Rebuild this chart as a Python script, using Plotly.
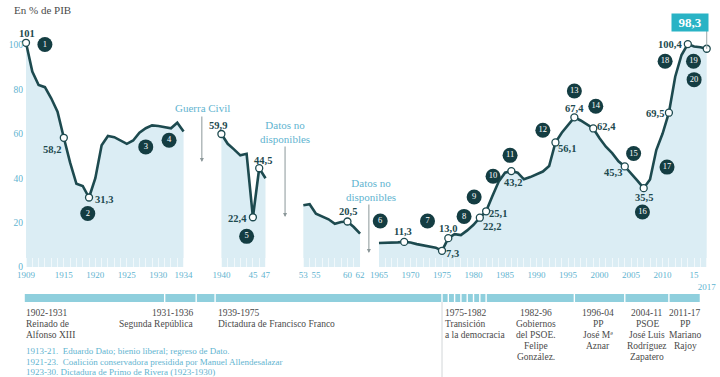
import plotly.graph_objects as go

# ---------------- DATA ----------------
years_1909_1934 = list(range(1909, 1935))
debt_1909_1934 = [101, 88, 82, 81, 76, 70, 58.2, 47, 37.5, 36.5, 31.3, 40, 54.8, 59, 58.5,
                  57, 55.5, 57, 60.5, 62.5, 63.8, 63.5, 63, 62.5, 65, 61]

years_1940_1947 = list(range(1940, 1948))
debt_1940_1947 = [59.9, 55.5, 53, 50.3, 51, 22.4, 44.5, 40]

years_1953_1962 = list(range(1953, 1963))
debt_1953_1962 = [27.8, 28.3, 24, 22.8, 21.5, 19.5, 20.3, 20.5, 18, 15]

years_1965_2017 = list(range(1965, 2018))
debt_1965_2017 = [10.8, 10.8, 11.0, 11.1, 11.3, 11.0, 10.3, 9.8, 9.2, 8.7,
                  7.3, 13.0, 14.8, 14.4, 16.5, 19.0, 22.2, 25.1, 32, 38.5,
                  42.5, 43.2, 42.5, 39.5, 40.5, 41.8, 43, 45.5, 56.1, 60.5,
                  64, 67.4, 66, 64.2, 62.4, 58.0, 54.2, 51.3, 47.6, 45.3,
                  42.3, 38.9, 35.5, 39.4, 52.7, 60.1, 69.5, 85.7, 95.5, 100.4,
                  99.3, 99.0, 98.3]

labelled_years = [1909, 1915, 1919, 1940, 1945, 1946, 1960, 1969, 1975, 1976, 1981,
                  1982, 1986, 1993, 1996, 1999, 2004, 2007, 2011, 2014, 2017]

tick_years = [1909, 1915, 1920, 1925, 1930, 1934, 1940, 1945, 1947, 1953, 1955, 1960,
              1962, 1965, 1970, 1975, 1980, 1985, 1990, 1995, 2000, 2005, 2010, 2015, 2017]
tick_labels = ["1909", "1915", "1920", "1925", "1930", "1934", "1940", "45", "47", "53",
               "55", "60", "62", "1965", "1970", "1975", "1980", "1985", "1990", "1995",
               "2000", "2005", "2010", "15", "<br>2017"]
y_ticks = [0, 20, 40, 60, 80, 100]

period_bounds = [1908.7, 1931, 1936, 1939, 1975, 1976, 1977, 1978, 1979, 1980, 1981,
                 1982, 1996, 2004, 2011, 2016]

period_texts = [
    ["1902-1931", "Reinado de", "Alfonso XIII"],
    ["1931-1936", "Segunda República"],
    ["1939-1975", "Dictadura de Francisco Franco"],
    ["1975-1982", "Transición", "a la democracia"],
    ["1982-96", "Gobiernos", "del PSOE.", "Felipe", "González."],
    ["1996-04", "PP", "José Mª", "Aznar"],
    ["2004-11", "PSOE", "José Luis", "Rodríguez", "Zapatero"],
    ["2011-17", "PP", "Mariano", "Rajoy"],
]
notes = ["1913-21.  Eduardo Dato; bienio liberal; regreso de Dato.",
         "1921-23.  Coalición conservadora presidida por Manuel Allendesalazar",
         "1923-30. Dictadura de Primo de Rivera (1923-1930)"]

# ---------------- STYLE / LAYOUT ----------------
W, H = 720, 377
ML, MR, MT, MB = 24, 8, 30, 110
PW, PH = W - ML - MR, H - MT - MB
PX_YEAR = 6.303
PX_UNIT = 2.22
x_lo = 1909 - (26 - ML) / PX_YEAR
x_hi = x_lo + PW / PX_YEAR
y_hi = PH / PX_UNIT

LINE = "#1d4a4f"
DARK = "#143d42"
FILL = "#dbedf4"
LIGHT = "#5fb4d0"
BAR = "#8fcfdd"
TEXT = "#4a4a4a"
SERIF = "Liberation Serif"


def pxx(px):
    return (px - ML) / PW


def pxy(py):
    return (MT + PH - py) / PH


fig = go.Figure()

for xs, ys in [(years_1909_1934, debt_1909_1934), (years_1940_1947, debt_1940_1947),
               (years_1953_1962, debt_1953_1962), (years_1965_2017, debt_1965_2017)]:
    fig.add_trace(go.Scatter(x=xs, y=ys, mode="lines", fill="tozeroy", fillcolor=FILL,
                             line=dict(color=LINE, width=2.6), hoverinfo="skip",
                             showlegend=False))

all_years = years_1909_1934 + years_1940_1947 + years_1953_1962 + years_1965_2017
all_debt = debt_1909_1934 + debt_1940_1947 + debt_1953_1962 + debt_1965_2017
lookup = dict(zip(all_years, all_debt))
lab_vals = [lookup[y] for y in labelled_years]

fig.add_trace(go.Scatter(x=labelled_years, y=lab_vals, mode="markers",
                         marker=dict(size=7, color="white", line=dict(color=LINE, width=1.3)),
                         hoverinfo="skip", showlegend=False, cliponaxis=False))

# value labels: offsets in px from the point (dx, dy up)
label_offsets = [(1, 9), (-12, -12), (15, -2), (-3, 9), (-15, -1), (4, 8), (1, 9.5),
                 (-1, 10), (10, -3), (0, 9.5), (12, -8.6), (12, -2), (2, -11), (12, -6),
                 (0, 9), (13, 1.5), (-12, -5.6), (0, -9), (-14, -1), (-18, 0)]


def fmt(v):
    s = f"{v:.1f}".replace(".", ",")
    return "101" if v == 101 else s


for yr, v, (dx, dy) in zip(labelled_years[:-1], lab_vals[:-1], label_offsets):
    fig.add_annotation(x=yr, y=v, text="<b>" + fmt(v) + "</b>", showarrow=False,
                       xshift=dx, yshift=dy,
                       font=dict(family=SERIF, size=10.5, color=LINE), xanchor="center",
                       yanchor="middle")

# highlighted last value box
fig.add_annotation(x=2017, y=pxy(22.5), yref="paper", xanchor="right", yanchor="middle",
                   xshift=2, text="<b>98,3</b>", showarrow=False, bgcolor="#29b3c5",
                   borderpad=2, width=32, height=13,
                   font=dict(family=SERIF, size=13, color="white"))
fig.add_shape(type="line", x0=2017, x1=2017, y0=lookup[2017], y1=y_hi, xref="x", yref="y",
              line=dict(color="#9aa7aa", width=1))

# numbered callouts (positions in data coords)
callout_pos = [(1912.0, 100.2), (1918.8, 24.1), (1928.0, 54.1), (1931.7, 57.1), (1944.0, 13.8),
               (1965.2, 20.7), (1972.7, 20.7), (1978.5, 22.8), (1980.1, 31.5), (1983.1, 40.9),
               (1985.8, 50.3), (1991.0, 61.6), (1996.0, 79.3), (1999.4, 72.4), (2005.4, 51.1),
               (2006.8, 24.8), (2010.7, 45.0), (2010.4, 92.7), (2014.9, 92.7), (2015.0, 84.4)]
fig.add_trace(go.Scatter(x=[p[0] for p in callout_pos], y=[p[1] for p in callout_pos],
                         mode="markers+text", text=[str(i + 1) for i in range(len(callout_pos))],
                         textposition="middle center",
                         textfont=dict(family=SERIF, size=8.5, color="white"),
                         marker=dict(size=15, color=DARK), hoverinfo="skip",
                         showlegend=False, cliponaxis=False))

# arrows for gaps
for txt, tx, ty, ax_year, head_py, tail_py in [
        ("Guerra Civil", 202, 108, 1936.9, 162, 115),
        ("Datos no<br>disponibles", 285, 132, 1950.1, 217, 145),
        ("Datos no<br>disponibles", 371, 190, 1963.4, 253, 203)]:
    fig.add_annotation(x=pxx(tx), y=pxy(ty), xref="paper", yref="paper", text=txt,
                       showarrow=False, font=dict(family=SERIF, size=11, color=LIGHT),
                       xanchor="center", yanchor="middle")
    fig.add_annotation(x=ax_year, y=(MT + PH - head_py) / PX_UNIT, text="", showarrow=True,
                       ax=0, ay=-(head_py - tail_py), arrowhead=2, arrowsize=0.8,
                       arrowwidth=1, arrowcolor="#8b9799")

# title
fig.add_annotation(x=pxx(12), y=pxy(10), xref="paper", yref="paper", text="En % de PIB",
                   showarrow=False, xanchor="left", yanchor="middle",
                   font=dict(family=SERIF, size=11, color=TEXT))

# timeline bar
for a, b in zip(period_bounds[:-1], period_bounds[1:]):
    fig.add_shape(type="rect", xref="x", yref="paper", x0=a + 0.11, x1=b - 0.11,
                  y0=pxy(302), y1=pxy(294), fillcolor=BAR, line=dict(width=0))
fig.add_shape(type="line", xref="x", yref="paper", x0=1975, x1=1975, y0=pxy(302),
              y1=pxy(377), line=dict(color="#d2d6d8", width=1))

# period texts: (x px, anchor)
period_anchor = [(24, "left"), (195, "right"), (216, "left"), (443, "left"),
                 (536, "center"), (598, "center"), (647, "center"), (685, "center")]
for lines, (xp, anc) in zip(period_texts, period_anchor):
    for i, ln in enumerate(lines):
        fig.add_annotation(x=pxx(xp), y=pxy(313 + i * 11), xref="paper", yref="paper",
                           text=ln, showarrow=False, xanchor=anc, yanchor="middle",
                           font=dict(family=SERIF, size=9.5, color=TEXT))

for i, ln in enumerate(notes):
    fig.add_annotation(x=pxx(24), y=pxy(351 + i * 10.5), xref="paper", yref="paper",
                       text=ln, showarrow=False, xanchor="left", yanchor="middle",
                       font=dict(family=SERIF, size=9, color=LIGHT))

fig.update_layout(
    width=W, height=H, margin=dict(l=ML, r=MR, t=MT, b=MB, autoexpand=False),
    paper_bgcolor="white", plot_bgcolor="white",
    xaxis=dict(range=[x_lo, x_hi], showgrid=False, zeroline=False, showline=False,
               automargin=False, tickangle=0, ticklabelstandoff=1,
               tickmode="array", tickvals=tick_years, ticktext=tick_labels,
               tickfont=dict(family=SERIF, size=9, color=LIGHT), ticks="",
               minor=dict(tickmode="linear", tick0=1909, dtick=1, ticks="inside",
                          ticklen=9, tickcolor="rgba(255,255,255,0.6)", tickwidth=1)),
    yaxis=dict(range=[0, y_hi], showgrid=False, zeroline=False, showline=False,
               automargin=False,
               tickvals=y_ticks, tickfont=dict(family=SERIF, size=9.5, color=LIGHT), ticks=""),
)

fig.write_html("out.html", config={"displayModeBar": False},
               post_script="document.body.style.margin='0';"
                           "document.body.style.overflow='hidden';")
